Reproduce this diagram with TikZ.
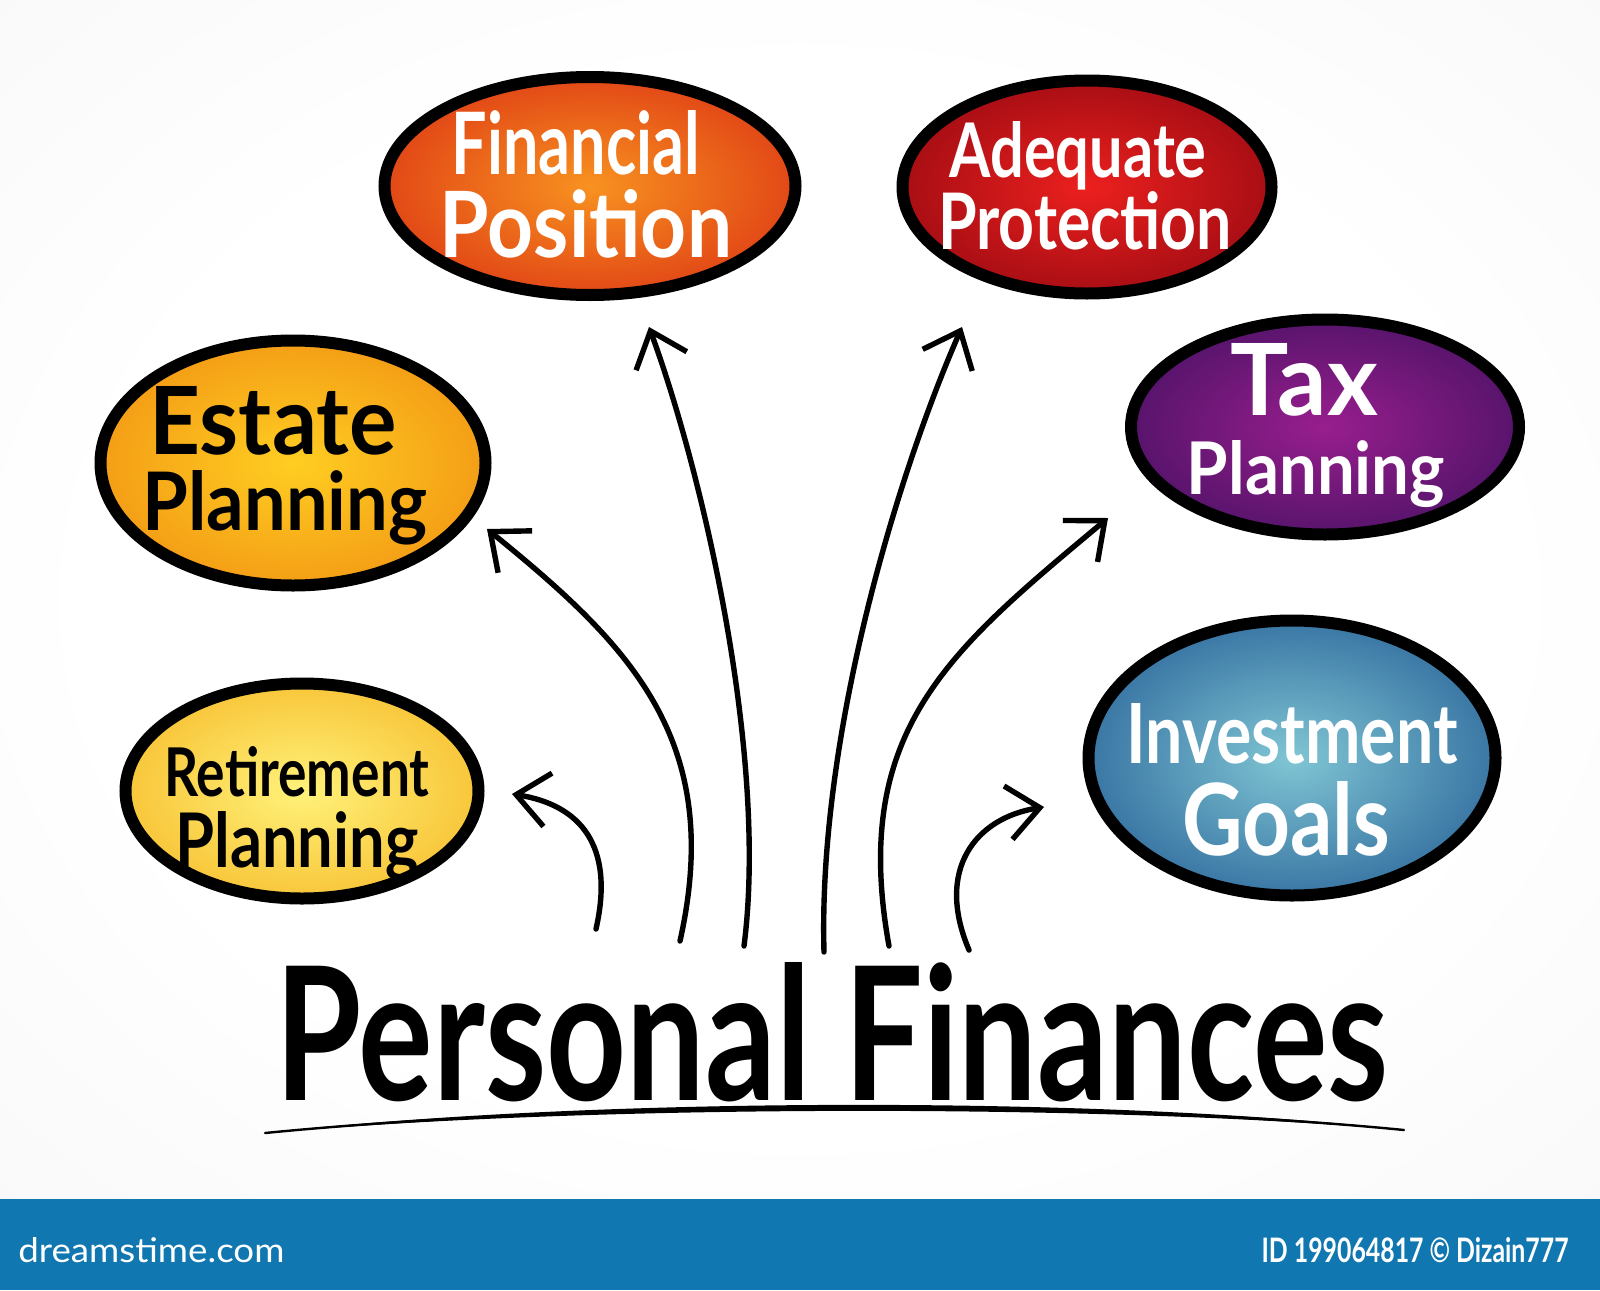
\documentclass[tikz,border=0pt]{standalone}
\usepackage{graphicx}
\usepackage{fontspec}
\setmainfont{Lato}
\newfontfamily\hand{Lato}
\usetikzlibrary{shapes.geometric,arrows.meta}
\definecolor{bgA}{RGB}{255,255,255}
\definecolor{bgB}{RGB}{243,243,243}
\definecolor{bgC}{RGB}{226,226,226}
\pgfdeclareradialshading{bgshade}{\pgfpoint{0bp}{0bp}}{color(0bp)=(bgA); color(22bp)=(bgA); color(50bp)=(bgB); color(72bp)=(bgC)}
\definecolor{banner}{RGB}{17,119,176}
\definecolor{fpIn}{RGB}{248,146,32}
\definecolor{fpOut}{RGB}{226,72,22}
\definecolor{apIn}{RGB}{236,32,30}
\definecolor{apOut}{RGB}{168,14,20}
\definecolor{esIn}{RGB}{255,206,34}
\definecolor{esOut}{RGB}{244,158,22}
\definecolor{txIn}{RGB}{152,30,142}
\definecolor{txOut}{RGB}{88,20,108}
\definecolor{rtIn}{RGB}{255,242,122}
\definecolor{rtOut}{RGB}{248,198,58}
\definecolor{igIn}{RGB}{128,198,212}
\definecolor{igOut}{RGB}{58,118,164}
\newcommand{\fitw}[3]{\resizebox{#1}{#2}{#3}}
\begin{document}
\begin{tikzpicture}[x=0.5pt,y=-0.5pt,
  bub/.style={ellipse, draw=black, line width=6pt, inner sep=0pt},
  wtxt/.style={anchor=base, inner sep=0pt, text=white, font=\hand\bfseries},
  btxt/.style={anchor=base, inner sep=0pt, text=black, font=\hand\bfseries},
  arr/.style={line width=2.7pt, line cap=round, line join=round, -{Straight Barb[length=16pt,width=27pt]}},
  bantxt/.style={anchor=base, inner sep=0pt, text=white}]
\useasboundingbox (0,0) rectangle (1600,1290);
% background
\shade[shading=bgshade] (0,0) rectangle (1600,1199);
\fill[banner] (0,1199) rectangle (1600,1290);

% ellipses
\node[bub, inner color=fpIn, outer color=fpOut, minimum width=205.5pt, minimum height=109pt] (fp) at (590,186) {};
\node[bub, inner color=apIn, outer color=apOut, minimum width=184.5pt, minimum height=106.5pt] (ap) at (1087,187) {};
\node[bub, inner color=esIn, outer color=esOut, minimum width=192.5pt, minimum height=122.5pt] (es) at (293,463) {};
\node[bub, inner color=txIn, outer color=txOut, minimum width=194pt, minimum height=107.5pt] (tx) at (1325,427) {};
\node[bub, inner color=rtIn, outer color=rtOut, minimum width=176.5pt, minimum height=107.5pt] (rt) at (302,791) {};
\node[bub, inner color=igIn, outer color=igOut, minimum width=203.5pt, minimum height=137.5pt] (ig) at (1292,758) {};

% texts
\node[wtxt] (fp1) at (576,174) {\fitw{124pt}{32pt}{Financial}};
\node[wtxt] (fp2) at (586,257) {\fitw{146pt}{34pt}{Position}};
\node[wtxt] (ap1) at (1078,177) {\fitw{128.5pt}{28pt}{Adequate}};
\node[wtxt] (ap2) at (1085,249) {\fitw{147pt}{29pt}{Protection}};
\node[btxt] (es1) at (273,454) {\fitw{123.5pt}{34pt}{Estate}};
\node[btxt] (es2) at (285,530) {\fitw{142.5pt}{30pt}{Planning}};
\node[wtxt] (tx1) at (1304,415) {\fitw{74pt}{36pt}{Tax}};
\node[wtxt] (tx2) at (1316,494) {\fitw{129pt}{27pt}{Planning}};
\node[btxt] (rt1) at (297,796) {\fitw{132.5pt}{25pt}{Retirement}};
\node[btxt] (rt2) at (297,867) {\fitw{121.5pt}{28pt}{Planning}};
\node[wtxt] (ig1) at (1292,763) {\fitw{165.5pt}{30pt}{Investment}};
\node[wtxt] (ig2) at (1286,855) {\fitw{104pt}{37pt}{Goals}};

% title
\node[btxt] (title) at (832,1100) {\fitw{556pt}{69pt}{Personal Finances}};
\fill[line width=1pt, line join=round] (265,1133) .. controls (600,1096) and (1100,1096) .. (1404,1130)
      .. controls (1100,1104) and (600,1104) .. (265,1133) -- cycle;
\draw[line width=1.2pt, line cap=round] (265,1133) .. controls (600,1100) and (1100,1100) .. (1404,1130);

% arrow ends
\coordinate (t1) at (596,929);  \coordinate (h1) at (512,794);
\coordinate (t2) at (680,941);  \coordinate (h2) at (487,529);
\coordinate (t3) at (744,946);  \coordinate (h3) at (649,327);
\coordinate (t4) at (824,952);  \coordinate (h4) at (962,327);
\coordinate (t5) at (889,946);  \coordinate (h5) at (1108,518);
\coordinate (t6) at (969,950);  \coordinate (h6) at (1044,807);
\draw[arr] (t1) .. controls (615,845) and (580,805) .. (h1);
\draw[arr] (t2) .. controls (725,740) and (630,645) .. (h2);
\draw[arr] (t3) .. controls (768,760) and (705,480) .. (h3);
\draw[arr] (t4) .. controls (818,740) and (895,480) .. (h4);
\draw[arr] (t5) .. controls (850,730) and (950,650) .. (h5);
\draw[arr] (t6) .. controls (935,870) and (975,818) .. (h6);

% banner texts
\node[bantxt, anchor=base west] (dt) at (18,1262) {\fitw{133pt}{12.5pt}{dreamstime.com}};
\node[bantxt, anchor=base east, font=\bfseries] (id) at (1569,1262) {\fitw{153.5pt}{12.5pt}{ID 199064817 © Dizain777}};
\end{tikzpicture}
\end{document}
